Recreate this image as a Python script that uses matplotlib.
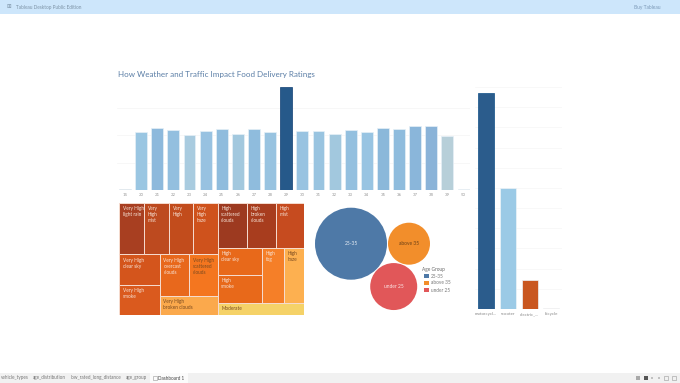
import matplotlib
matplotlib.use("Agg")
import matplotlib.pyplot as plt
import numpy as np
from matplotlib.patches import Circle, Rectangle

W, H = 680, 383

ages = ["15", "20", "21", "22", "23", "24", "25", "26", "27", "28", "29",
        "30", "31", "32", "33", "34", "35", "36", "37", "38", "39", "50"]
age_counts = [40, 2120, 2260, 2190, 2010, 2140, 2230, 2040, 2230, 2120, 3770,
              2140, 2160, 2050, 2180, 2130, 2280, 2230, 2320, 2320, 1970, 20]
age_colors = ["#b9b9b9", "#9ac6e2", "#8db9dc", "#93bfdf", "#a9cbdf", "#98c2e1", "#8fbcdd",
              "#a2c8de", "#8fbcdd", "#98c3e0", "#26598a", "#98c3e1", "#99c4e0", "#a2c8de",
              "#94c0df", "#98c4e2", "#8bb8da", "#8fbcdd", "#8ab6da", "#8ab3d8", "#b7cfd9", "#d8d8d8"]

vehicles = ["motorcycl...", "scooter", "electric_...", "bicycle"]
vehicle_counts = [21400, 12000, 2830, 60]
vehicle_colors = ["#2b5c8c", "#9bcae6", "#c95720", "#f3d9cf"]

age_groups = ["25-35", "above 35", "under 25"]
group_counts = [1296, 441, 552]
group_colors = ["#4e79a7", "#f28e2b", "#e15759"]

# treemap tiles: label, value, colour
vh_top = [("Very High\nlight rain", 112, "#a83f21"), ("Very\nHigh\nmist", 109, "#bd4a1f"),
          ("Very\nHigh", 107, "#c24c1c"), ("Very\nHigh\nhaze", 109, "#cf521c")]
vh_left = [("Very High\nclear sky", 107, "#d4551c"), ("Very High\nsmoke", 106, "#da5a1e")]
vh_mid = [("Very High\novercast\nclouds", 104, "#e8681c"), ("Very High\nscattered\nclouds", 101, "#f4761f")]
vh_broken = ("Very High\nbroken clouds", 96, "#fba94c")
high_top = [("High\nscattered\nclouds", 113, "#9d3a20"), ("High\nbroken\nclouds", 112, "#a83d1e"),
            ("High\nmist", 108, "#c64b1f")]
high_left = [("High\nclear sky", 104, "#e8691a"), ("High\nsmoke", 107, "#e8691a")]
high_fog = ("High\nfog", 102, "#f57f28")
high_haze = ("High\nhaze", 97, "#fdb050")
moderate = ("Moderate", 90, "#f5d268")

plt.rcParams["font.family"] = ["Lato", "DejaVu Sans"]


def px_axes(fig, x0, y0, x1, y1):
    # pixel box measured from the top left of the picture
    ax = fig.add_axes([x0 / W, 1 - y1 / H, (x1 - x0) / W, (y1 - y0) / H])
    return ax


def total(node):
    if isinstance(node, tuple):
        return node[1]
    return sum(total(n) for n in node)


def layout(node, x0, y0, x1, y1, across, out):
    # slice and dice: lists alternate between side by side and stacked
    if isinstance(node, tuple):
        out.append((node, x0, y0, x1, y1))
        return
    pos = x0 if across else y0
    size = (x1 - x0) if across else (y1 - y0)
    whole = total(node)
    for child in node:
        step = size * total(child) / whole
        if across:
            layout(child, pos, y0, pos + step, y1, False, out)
        else:
            layout(child, x0, pos, x1, pos + step, True, out)
        pos += step


fig = plt.figure(figsize=(W / 100, H / 100), dpi=100)
fig.patch.set_facecolor("white")

# window chrome
chrome = fig.add_axes([0, 0, 1, 1])
chrome.set_xlim(0, W)
chrome.set_ylim(H, 0)
chrome.axis("off")
chrome.add_patch(Rectangle((0, 0), W, 13.5, color="#cde6fb", lw=0))
chrome.add_patch(Rectangle((0, 373), W, 10, color="#f1f1f1", lw=0))
chrome.add_patch(Rectangle((150, 373), 38, 10, color="#fbfbfb", lw=0))
chrome.text(16, 7, "Tableau Desktop Public Edition", fontsize=3.4, color="#7d93a6", va="center")
chrome.text(647, 7, "Buy Tableau", fontsize=3.5, color="#7d9ab8", va="center", ha="center")
chrome.text(9, 7, "⊞", fontsize=4, color="#7d93a6", va="center", ha="center", family="DejaVu Sans")
for tab, tx in zip(["vehicle_types", "age_distribution", "low_rated_long_distance", "age_group"],
                   [1, 33, 71, 126]):
    chrome.text(tx, 378, tab, fontsize=3.3, color="#777777", va="center")
chrome.text(158.5, 378, "Dashboard 1", fontsize=3.3, color="#444444", va="center")
chrome.add_patch(Rectangle((153, 376), 3.5, 4, fc="none", ec="#999999", lw=0.4))
for ix, c in zip([636, 644], ["#a9a9a9", "#555555"]):
    chrome.add_patch(Rectangle((ix, 376), 3.5, 3.5, color=c, lw=0))
for ix in [652, 659]:
    chrome.add_patch(Circle((ix, 378), 1, color="#b5b5b5", lw=0))
for ix in [666, 674]:
    chrome.add_patch(Rectangle((ix - 2, 376), 4, 4, fc="none", ec="#999999", lw=0.4))
chrome.text(118, 74, "How Weather and Traffic Impact Food Delivery Ratings",
            fontsize=5.75, color="#5b7ea6", va="center")

# age bars
ax = px_axes(fig, 117, 82, 470, 190)
x = np.arange(len(ages))
ax.bar(x, age_counts, width=0.74, color=age_colors, edgecolor="#e6f0f7", linewidth=0.5, zorder=3)
ax.patches[ages.index("29")].set_edgecolor("#0f3f73")
ax.set_xlim(-0.5, 21.4)
ax.set_ylim(0, 3940)
ax.set_xticks(x, ages)
ax.set_yticks([1000, 2000, 3000])
ax.tick_params(axis="x", length=0, labelsize=3.2, labelcolor="#999999", pad=2.4)
ax.tick_params(axis="y", length=0, labelleft=False)
ax.grid(axis="y", color="#f4f4f4", linewidth=0.5)
ax.set_axisbelow(True)
for s in ax.spines.values():
    s.set_visible(False)

# vehicle bars
ax = px_axes(fig, 475, 87, 562, 309)
x = np.arange(len(vehicles))
ax.bar(x, vehicle_counts, width=0.74, color=vehicle_colors, edgecolor="#eef4f8", linewidth=0.5, zorder=3)
ax.patches[0].set_edgecolor("#0f4f86")
ax.set_xlim(-0.52, 3.5)
ax.set_ylim(0, 22000)
ax.set_xticks(x, vehicles)
ax.set_yticks(np.arange(2000, 22001, 2000))
ax.tick_params(axis="x", length=0, labelsize=3.2, labelcolor="#888888", pad=2.4)
ax.tick_params(axis="y", length=0, labelleft=False)
ax.grid(axis="y", color="#f6f6f6", linewidth=0.5)
for s in ax.spines.values():
    s.set_visible(False)

# treemap
ax = px_axes(fig, 119, 203, 304, 315)
ax.set_xlim(0, 1)
ax.set_ylim(1, 0)
ax.axis("off")
tree = [[vh_top, [vh_left, [vh_mid, vh_broken]]],
        [[[high_top, [high_left, high_fog, high_haze]]], moderate]]
tiles = []
layout(tree, 0, 0, 1, 1, True, tiles)
for (label, value, color), x0, y0, x1, y1 in tiles:
    ax.add_patch(Rectangle((x0, y0), x1 - x0, y1 - y0, facecolor=color,
                           edgecolor="#f6dcd0", linewidth=0.7))
    dark = color in ("#fba94c", "#fdb050", "#f5d268", "#f4761f")
    ax.annotate(label, (x0, y0), xytext=(2.6, -2.5), textcoords="offset points",
                va="top", ha="left", fontsize=3.4, linespacing=1.2,
                color="#7a4a20" if dark else "#f7e4d8")

# bubbles: each one touches the ones already placed
ax = px_axes(fig, 305, 195, 475, 320)
ax.set_xlim(305, 475)
ax.set_ylim(320, 195)
ax.axis("off")
radii = np.sqrt(group_counts)
gap = 1.0
p0 = np.array([351.0, 243.7])
d01 = radii[0] + radii[1] + gap
d02 = radii[0] + radii[2] + gap
d12 = radii[1] + radii[2] + gap
p1 = p0 + np.array([d01, 0])
a = (d02 ** 2 - d12 ** 2 + d01 ** 2) / (2 * d01)
p2 = p0 + np.array([a, np.sqrt(d02 ** 2 - a ** 2)])
for pos, r, color, name, tc in zip([p0, p1, p2], radii, group_colors, age_groups,
                                   ["#e8eef5", "#6b4016", "#fbe6e6"]):
    ax.add_patch(Circle(pos, r, color=color, lw=0))
    ax.text(pos[0], pos[1], name, fontsize=3.5, color=tc, ha="center", va="center")

# bubble legend
ax.text(422, 269.5, "Age Group", fontsize=3.4, color="#666666", va="center")
for i, (name, color) in enumerate(zip(age_groups, group_colors)):
    y = 276 + i * 7
    ax.add_patch(Rectangle((424, y - 2.2), 4.6, 4.6, color=color, lw=0))
    ax.text(431, y, name, fontsize=3.4, color="#777777", va="center")

fig.savefig("out.png", dpi=100)
